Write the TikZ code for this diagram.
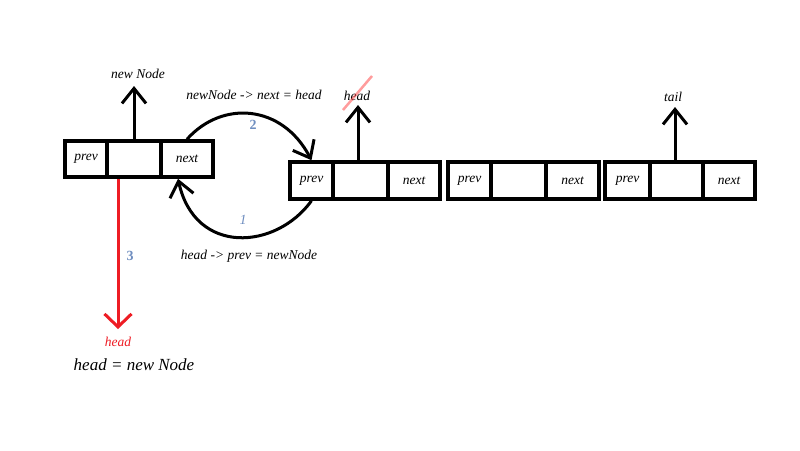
\documentclass[tikz,border=0pt]{standalone}
\usepackage{fontspec}
\setmainfont{Liberation Serif}
\usetikzlibrary{arrows.meta}
\definecolor{numblue}{HTML}{6F8EC0}
\definecolor{redline}{HTML}{EE1C24}
\begin{document}
\begin{tikzpicture}[x=1pt,y=-1pt,
  cell/.style={draw=black,line width=3.5pt,fill=white,inner sep=0pt,minimum height=37pt,font=\fontsize{13.5}{15}\selectfont\itshape},
  lbl/.style={inner sep=2pt,font=\fontsize{13.5}{15}\selectfont\itshape},
  ptr/.style={line width=3pt,-{Straight Barb[length=15pt,width=24pt,line width=3pt]}},
  num/.style={inner sep=1pt,text=numblue,font=\fontsize{14}{15}\selectfont\bfseries}]
\useasboundingbox[fill=white] (0,0) rectangle (800,450);
% node 1 (new Node)
\node[cell,minimum width=42pt,minimum height=36pt] (n1a) at (86,159) {prev};
\node[cell,minimum width=54pt,minimum height=36pt] (n1b) at (134,159) {};
\node[cell,minimum width=52pt,minimum height=36pt] (n1c) at (187,159) {next};
% node 2
\node[cell,minimum width=43pt] (n2a) at (311.5,180.5) {prev};
\node[cell,minimum width=55pt] (n2b) at (360.5,180.5) {};
\node[cell,minimum width=52pt] (n2c) at (414,180.5) {next};
% node 3
\node[cell,minimum width=43pt] (n3a) at (469.5,180.5) {prev};
\node[cell,minimum width=55pt] (n3b) at (518.5,180.5) {};
\node[cell,minimum width=53pt] (n3c) at (572.5,180.5) {next};
% node 4
\node[cell,minimum width=45pt] (n4a) at (627.5,180.5) {prev};
\node[cell,minimum width=53pt] (n4b) at (676.5,180.5) {};
\node[cell,minimum width=52pt] (n4c) at (729,180.5) {next};
% labels
\node[lbl] (lnew) at (138,74) {new Node};
\node[lbl] (lhead) at (357,96) {head};
\node[lbl] (ltail) at (673,97) {tail};
\node[lbl] (lop2) at (254,95) {newNode -> next = head};
\node[lbl] (lop1) at (249,256) {head -> prev = newNode};
\node[lbl,text=redline] (lred) at (118,342) {head};
\node[inner sep=2pt,font=\fontsize{17}{19}\selectfont\itshape] (lassign) at (134,365) {head = new Node};
\node[num] (k2) at (253,125) {2};
\node[num,font=\fontsize{14}{15}\selectfont\itshape] (k1) at (243,220) {1};
\node[num] (k3) at (130,256) {3};
% arrow tips
\coordinate (t1) at (134,86);
\coordinate (t2) at (358,105);
\coordinate (t4) at (675,107);
\coordinate (t3) at (118,329);
% pointers up
\draw[ptr] (n1b.north -| t1) -- (t1);
\draw[ptr] (n2b.north -| t2) -- (t2);
\draw[ptr] (n4b.north -| t4) -- (t4);
% strike on head
\draw[line width=2.5pt,red!70!white,opacity=0.55] ([xshift=-14pt,yshift=-14pt]lhead.center) -- ([xshift=15pt,yshift=20pt]lhead.center);
% curve 2
\draw[ptr] (n1c.north) .. controls (222,100) and (282,104) .. (n2a.north);
% curve 1
\draw[ptr] (n2a.south) .. controls (276,250) and (195,256) .. ([xshift=-9pt]n1c.south);
% red arrow
\draw[line width=3pt,redline,-{Straight Barb[length=13pt,width=27pt,line width=3pt]}] ([xshift=-16pt]n1b.south) -- (t3);
\end{tikzpicture}
\end{document}
